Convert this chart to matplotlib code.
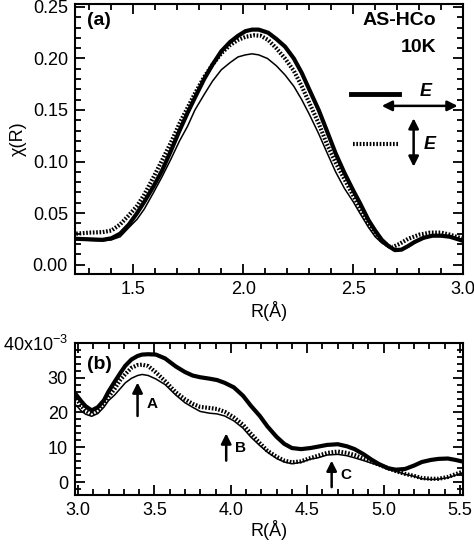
import matplotlib.pyplot as plt
from matplotlib.ticker import MultipleLocator, FuncFormatter

plt.rcParams['font.family'] = ['Liberation Sans', 'DejaVu Sans']
plt.rcParams['mathtext.fontset'] = 'custom'
plt.rcParams['mathtext.rm'] = 'Liberation Sans'

# panel (a): first shell, chi(R)
xa_thick = [1.24, 1.30, 1.36, 1.40, 1.44, 1.48, 1.517, 1.55, 1.592, 1.63, 1.67, 1.71, 1.746,
            1.78, 1.822, 1.86, 1.90, 1.94, 1.976, 2.01, 2.04, 2.07, 2.113, 2.15, 2.19, 2.23,
            2.266, 2.30, 2.343, 2.38, 2.42, 2.46, 2.50, 2.53, 2.57, 2.60, 2.63, 2.66, 2.69,
            2.72, 2.75, 2.78, 2.82, 2.86, 2.90, 2.94, 2.97, 3.00]
ya_thick = [0.025, 0.0245, 0.024, 0.0255, 0.030, 0.039, 0.050, 0.061, 0.076, 0.091, 0.110,
            0.130, 0.147, 0.162, 0.180, 0.194, 0.207, 0.216, 0.222, 0.2265, 0.228, 0.228,
            0.225, 0.219, 0.2115, 0.200, 0.186, 0.170, 0.150, 0.130, 0.108, 0.089, 0.072,
            0.060, 0.043, 0.033, 0.024, 0.018, 0.014, 0.0145, 0.018, 0.022, 0.026, 0.028,
            0.028, 0.027, 0.025, 0.023]

xa_dot = [1.24, 1.30, 1.36, 1.40, 1.44, 1.48, 1.517, 1.55, 1.592, 1.63, 1.67, 1.71, 1.746,
          1.78, 1.822, 1.86, 1.90, 1.94, 1.976, 2.01, 2.05, 2.08, 2.113, 2.15, 2.19, 2.23,
          2.266, 2.30, 2.343, 2.38, 2.42, 2.46, 2.50, 2.53, 2.57, 2.60, 2.63, 2.66, 2.68,
          2.71, 2.75, 2.80, 2.85, 2.90, 2.94, 2.97, 3.00]
ya_dot = [0.030, 0.031, 0.0315, 0.033, 0.039, 0.048, 0.057, 0.068, 0.085, 0.101, 0.118,
          0.137, 0.152, 0.166, 0.182, 0.194, 0.205, 0.213, 0.218, 0.221, 0.2225, 0.222,
          0.218, 0.210, 0.200, 0.188, 0.173, 0.157, 0.137, 0.117, 0.099, 0.083, 0.067,
          0.055, 0.039, 0.030, 0.023, 0.018, 0.017, 0.020, 0.025, 0.029, 0.031, 0.031,
          0.029, 0.027, 0.025]

xa_thin = [1.24, 1.30, 1.36, 1.40, 1.44, 1.48, 1.517, 1.55, 1.592, 1.63, 1.67, 1.71, 1.746,
           1.78, 1.822, 1.86, 1.90, 1.94, 1.976, 2.01, 2.04, 2.07, 2.11, 2.15, 2.19, 2.23,
           2.266, 2.30, 2.343, 2.38, 2.42, 2.46, 2.50, 2.53, 2.57, 2.60, 2.63, 2.66, 2.69,
           2.72, 2.75, 2.78, 2.82, 2.86, 2.90, 2.94, 2.97, 3.00]
ya_thin = [0.025, 0.0235, 0.023, 0.024, 0.027, 0.036, 0.044, 0.054, 0.070, 0.085, 0.102,
           0.120, 0.134, 0.150, 0.165, 0.178, 0.189, 0.196, 0.2015, 0.2035, 0.2045, 0.2035,
           0.200, 0.193, 0.184, 0.173, 0.160, 0.146, 0.127, 0.109, 0.090, 0.074, 0.061,
           0.050, 0.036, 0.027, 0.021, 0.017, 0.0145, 0.0145, 0.018, 0.021, 0.025, 0.0275,
           0.028, 0.027, 0.025, 0.023]

# panel (b): outer shells, chi(R) in units of 1e-3
xb = [2.99, 3.02, 3.05, 3.09, 3.13, 3.17, 3.20, 3.24, 3.28, 3.31, 3.35, 3.39, 3.42, 3.46,
      3.51, 3.57, 3.64, 3.70, 3.75, 3.80, 3.86, 3.91, 3.96, 4.02, 4.08, 4.13, 4.19, 4.24,
      4.30, 4.35, 4.40, 4.46, 4.52, 4.57, 4.63, 4.70, 4.76, 4.81, 4.87, 4.92, 4.97, 5.03,
      5.08, 5.14, 5.20, 5.25, 5.31, 5.36, 5.42, 5.47, 5.51]
yb_thick = [25, 23.3, 21.8, 20.6, 21.5, 23.5, 26, 28.8, 31.5, 33.4, 35.2, 36.2, 36.6, 36.7,
            36.6, 35.5, 33.2, 31.6, 30.6, 30.1, 29.7, 29.3, 28.5, 27.2, 24.8, 22, 19, 16,
            13, 11, 9.8, 9.5, 9.8, 10.2, 10.7, 10.9, 10.3, 9.5, 8.0, 6.5, 5.2, 4.0,
            3.6, 3.8, 4.8, 5.8, 6.4, 6.7, 6.8, 6.4, 6.0]
yb_dot = [24, 22, 20.5, 19.5, 20.5, 22.5, 24.5, 26.8, 29.5, 31, 32.8, 33.6, 33.7, 33.3,
          31.5, 29, 25.8, 23.8, 22.5, 21.6, 21.3, 21, 20.2, 18.6, 16.5, 14, 11.2, 9,
          7.3, 6.2, 5.7, 6.0, 6.9, 7.6, 8.4, 8.8, 8.4, 7.8, 6.7, 5.9, 5.0, 4.0,
          3.2, 2.4, 1.8, 1.2, 1.0, 1.0, 1.5, 2.3, 2.9]
yb_thin = [22, 20.5, 19.5, 18.9, 19.7, 21.5, 23.4, 25, 27, 28.5, 29.8, 30.6, 30.9, 30.6,
           29.6, 28, 25, 22.8, 21.5, 20.3, 19.8, 19.6, 19, 17.6, 15.5, 13, 10.5, 8.6,
           6.8, 5.8, 5.3, 5.7, 6.6, 7.0, 7.8, 8.0, 7.6, 7.0, 6.2, 5.5, 4.8, 3.8,
           3.1, 2.3, 1.7, 1.0, 0.8, 0.9, 1.3, 2.0, 2.6]

peaks = ['A', 'B', 'C']
peak_x = [3.39, 3.97, 4.66]
peak_tail = [19, 6.2, -1.4]
peak_tip = [28.6, 14, 6.2]

dotstyle = (0, (0.4, 0.4))


def style_axes(ax, xmaj, xmin, ymaj, ymin):
    ax.xaxis.set_major_locator(MultipleLocator(xmaj))
    ax.xaxis.set_minor_locator(MultipleLocator(xmin))
    ax.yaxis.set_major_locator(MultipleLocator(ymaj))
    ax.yaxis.set_minor_locator(MultipleLocator(ymin))
    ax.tick_params(which='both', direction='in', top=True, right=True, width=1.3, labelsize=13, pad=5)
    ax.tick_params(which='major', length=7)
    ax.tick_params(which='minor', length=4)
    for s in ax.spines.values():
        s.set_linewidth(1.5)


fig = plt.figure(figsize=(4.74, 5.51), dpi=100)
ax1 = fig.add_axes([0.158, 0.503, 0.819, 0.490])
ax2 = fig.add_axes([0.158, 0.102, 0.819, 0.276])

ax1.plot(xa_thick, ya_thick, color='black', lw=3.0)
ax1.plot(xa_dot, ya_dot, color='black', lw=3.0, linestyle=dotstyle)
ax1.plot(xa_thin, ya_thin, color='black', lw=1.1)
ax1.set_xlim(1.234, 3.0)
ax1.set_ylim(-0.009, 0.253)
style_axes(ax1, 0.5, 0.1, 0.05, 0.01)
ax1.yaxis.set_major_formatter(FuncFormatter(lambda v, p: f'{v:.2f}'))
ax1.xaxis.set_major_formatter(FuncFormatter(lambda v, p: f'{v:.1f}'))
ax1.set_xlabel('R(Å)', fontsize=13, labelpad=2)
ax1.set_ylabel('χ(R)', fontsize=13, labelpad=4)

ax1.text(0.03, 0.94, '(a)', transform=ax1.transAxes, fontsize=14, fontweight='bold', va='center')
ax1.text(0.93, 0.94, 'AS-HCo', transform=ax1.transAxes, fontsize=14, fontweight='bold',
         ha='right', va='center')
ax1.text(0.93, 0.84, '10K', transform=ax1.transAxes, fontsize=14, fontweight='bold',
         ha='right', va='center')

# legend keys with polarisation arrows
ax1.plot([2.49, 2.71], [0.166, 0.166], color='black', lw=3.5)
ax1.text(2.83, 0.168, 'E', fontsize=13, fontweight='bold', style='italic', ha='center', va='center')
ax1.annotate('', xy=(2.975, 0.154), xytext=(2.63, 0.154),
             arrowprops=dict(arrowstyle='<|-|>', color='black', lw=1.8, mutation_scale=15,
                             shrinkA=0, shrinkB=0))
ax1.plot([2.50, 2.71], [0.117, 0.117], color='black', lw=3.0, linestyle=dotstyle)
ax1.annotate('', xy=(2.775, 0.095), xytext=(2.775, 0.142),
             arrowprops=dict(arrowstyle='<|-|>', color='black', lw=1.8, mutation_scale=15,
                             shrinkA=0, shrinkB=0))
ax1.text(2.85, 0.117, 'E', fontsize=13, fontweight='bold', style='italic', ha='center', va='center')

ax2.plot(xb, yb_thick, color='black', lw=3.0)
ax2.plot(xb, yb_dot, color='black', lw=3.0, linestyle=dotstyle)
ax2.plot(xb, yb_thin, color='black', lw=1.1)
ax2.set_xlim(2.98, 5.52)
ax2.set_ylim(-3.6, 40)
style_axes(ax2, 0.5, 0.1, 10, 2)
ax2.xaxis.set_major_formatter(FuncFormatter(lambda v, p: f'{v:.1f}'))
ax2.yaxis.set_major_formatter(FuncFormatter(
    lambda v, p: '40x10$^{-3}$' if round(v) == 40 else f'{v:.0f}'))
ax2.set_xlabel('R(Å)', fontsize=13, labelpad=1)
ax2.set_ylabel('χ(R)', fontsize=13, labelpad=6)
ax2.text(0.03, 0.86, '(b)', transform=ax2.transAxes, fontsize=14, fontweight='bold', va='center')

for name, px, t0, t1 in zip(peaks, peak_x, peak_tail, peak_tip):
    ax2.annotate('', xy=(px, t1), xytext=(px, t0),
                 arrowprops=dict(arrowstyle='-|>', color='black', lw=1.8, mutation_scale=15,
                                 shrinkA=0, shrinkB=0))
    ax2.text(px + 0.06, t0 + 3.5, name, fontsize=11, fontweight='bold', va='center')

fig.savefig('out.png', dpi=100)
